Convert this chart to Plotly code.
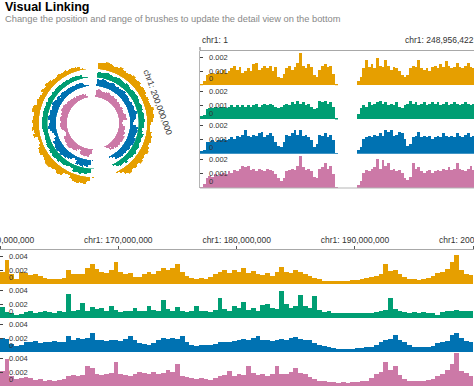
import plotly.graph_objects as go

# ---------------- data ----------------
CHR1_LEN = 248956422
OVERVIEW_BIN = 2_500_000          # whole-chromosome bins (overview + circular)
DETAIL_START = 160_000_000
DETAIL_END = 200_000_000
DETAIL_BIN = 400_000              # bins of the detail view
UNIT = 1e-4                       # values below are in units of 0.0001

colors = ["#E69F00", "#009E73", "#0072B2", "#CC79A7"]
N = None

orange_whole = [1, 3, 7, 8, 9, 8, 10, 9, 11, 9,
                10, 12, 14, 11, 13, 9, 10, 12, 10, 15,
                16, 11, 12, 14, 12, 14, 10, 13, 6, 5,
                8, 12, 14, 11, 13, 16, 23, 14, 12, 15,
                13, 7, 6, 11, 14, 15, 13, 14, 8, 1,
                N, N, N, N, N, N, N, 3, 6, 12,
                18, 13, 15, 12, 19, 14, 13, 18, 14, 11,
                13, 12, 10, 7, 6, 7, 12, 14, 13, 18,
                12, 11, 12, 10, 13, 14, 12, 15, 13, 17,
                14, 12, 13, 16, 13, 12, 14, 16, 13, 12]
green_whole = [2, 3, 7, 8, 8, 9, 8, 9, 9, 8,
               9, 10, 9, 10, 9, 10, 9, 10, 9, 10,
               11, 9, 10, 11, 10, 11, 10, 9, 8, 9,
               10, 11, 10, 12, 11, 13, 11, 12, 10, 11,
               9, 7, 8, 13, 12, 13, 11, 12, 9, 1,
               N, N, N, N, N, N, N, 4, 8, 10,
               9, 12, 10, 11, 12, 13, 11, 12, 10, 11,
               10, 12, 9, 8, 10, 11, 13, 11, 12, 10,
               11, 12, 10, 11, 12, 11, 12, 10, 11, 12,
               10, 11, 12, 11, 10, 11, 12, 11, 10, 11]
blue_whole = [2, 3, 9, 9, 10, 9, 10, 10, 11, 10,
              11, 12, 11, 13, 12, 14, 17, 13, 12, 14,
              13, 15, 16, 12, 14, 15, 13, 9, 6, 5,
              9, 14, 13, 15, 17, 14, 17, 13, 14, 12,
              10, 5, 7, 14, 13, 15, 12, 14, 10, 1,
              N, N, N, N, N, N, N, 3, 5, 11,
              12, 13, 12, 14, 13, 15, 13, 17, 16, 17,
              13, 14, 16, 15, 11, 6, 7, 12, 13, 16,
              12, 13, 12, 13, 11, 12, 13, 12, 15, 13,
              12, 13, 12, 15, 13, 12, 14, 15, 12, 13]
pink_whole = [1, 3, 7, 9, 8, 10, 9, 10, 11, 10,
              12, 11, 13, 12, 14, 16, 15, 16, 13, 14,
              12, 14, 13, 12, 14, 13, 12, 10, 7, 5,
              7, 12, 13, 14, 13, 16, 23, 15, 13, 14,
              12, 8, 7, 14, 15, 18, 14, 16, 10, 1,
              N, N, N, N, N, N, N, 2, 5, 11,
              13, 12, 14, 15, 21, 14, 20, 16, 18, 13,
              14, 12, 13, 11, 7, 6, 8, 18, 14, 15,
              12, 11, 12, 13, 11, 12, 13, 12, 14, 13,
              15, 13, 14, 18, 14, 13, 12, 14, 16, 13]

orange_detail = [18, 36, 15, 8, 17, 16, 13, 14, 12, 9,
                 7, 7, 8, 9, 21, 14, 15, 14, 24, 30,
                 22, 17, 16, 20, 32, 17, 14, 16, 11, 10,
                 15, 17, 14, 19, 23, 20, 24, 30, 17, 12,
                 9, 8, 9, 7, 10, 14, 18, 20, 16, 21,
                 18, 24, 16, 19, 14, 13, 16, 12, 18, 25,
                 17, 16, 20, 18, 15, 12, 9, 8, 5, 5,
                 4, 5, 4, 5, 6, 6, 7, 9, 11, 12,
                 14, 29, 19, 20, 15, 10, 8, 7, 6, 7,
                 9, 12, 16, 18, 22, 33, 43, 20, 15, 13]
green_detail = [16, 9, 8, 5, 6, 9, 10, 8, 9, 10,
                9, 8, 10, 9, 36, 10, 12, 22, 11, 16,
                13, 15, 10, 17, 12, 9, 10, 11, 15, 10,
                11, 17, 12, 11, 27, 13, 10, 16, 10, 9,
                11, 17, 10, 11, 9, 12, 29, 13, 11, 18,
                14, 23, 12, 14, 10, 19, 20, 14, 13, 39,
                20, 15, 18, 34, 17, 14, 32, 12, 9, 11,
                8, 7, 7, 8, 7, 8, 7, 8, 7, 9,
                10, 12, 29, 13, 10, 9, 8, 9, 8, 9,
                8, 7, 4, 9, 11, 10, 12, 10, 11, 10]
blue_detail = [20, 19, 12, 9, 11, 15, 14, 16, 13, 15,
               14, 16, 14, 15, 24, 18, 20, 19, 21, 28,
               18, 17, 16, 18, 17, 16, 19, 23, 17, 13,
               12, 11, 13, 18, 20, 19, 21, 19, 24, 14,
               10, 9, 11, 10, 10, 12, 14, 15, 14, 16,
               17, 19, 18, 20, 24, 18, 17, 16, 17, 19,
               18, 20, 22, 19, 18, 17, 13, 10, 9, 8,
               6, 5, 5, 5, 5, 6, 6, 7, 8, 11,
               15, 17, 19, 25, 18, 14, 10, 8, 7, 7,
               8, 9, 13, 15, 16, 25, 28, 20, 16, 15]
pink_detail = [22, 40, 14, 11, 12, 13, 12, 9, 10, 8,
               9, 8, 9, 10, 15, 16, 14, 16, 30, 26,
               18, 16, 17, 19, 35, 18, 16, 15, 17, 20,
               19, 18, 20, 18, 19, 24, 20, 32, 14, 13,
               12, 11, 12, 10, 9, 12, 15, 16, 22, 15,
               18, 16, 30, 19, 16, 17, 15, 18, 30, 17,
               18, 20, 26, 19, 17, 13, 11, 8, 7, 6,
               6, 5, 6, 5, 6, 6, 7, 8, 12, 18,
               20, 35, 24, 30, 16, 10, 8, 7, 7, 8,
               9, 11, 15, 17, 23, 32, 48, 22, 19, 14]

whole_tracks = [orange_whole, green_whole, blue_whole, pink_whole]
detail_tracks = [orange_detail, green_detail, blue_detail, pink_detail]

overview_ticks = [0, 0.001, 0.002]
detail_ticks = [0, 0.002, 0.004]
overview_max = 0.00243
circular_max = 0.0016
detail_max = 0.005

detail_tickvals = [160_000_000, 170_000_000, 180_000_000, 190_000_000, 200_000_000]
detail_ticktext = ["chr1: 160,000,000", "chr1: 170,000,000", "chr1: 180,000,000",
                   "chr1: 190,000,000", "chr1: 200,000,000"]

# ---------------- layout helpers ----------------
W, H = 474, 387
FONT = "Liberation Sans, Arial, sans-serif"


def px_x(x):
    return x / W


def px_y(y):
    return 1 - y / H


def scaled(vals):
    return [None if v is None else v * UNIT for v in vals]


fig = go.Figure()
layout = {}
annotations = []
shapes = []

# ---------------- overview (linear, whole chr1) ----------------
ov_edges = [51, 85.25, 119.5, 153.75, 188]
ov_left = 200
for k, vals in enumerate(whole_tracks):
    yname = "y" if k == 0 else f"y{k + 1}"
    ykey = "yaxis" if k == 0 else f"yaxis{k + 1}"
    xs = [(i + 0.5) * OVERVIEW_BIN for i in range(len(vals))]
    fig.add_trace(go.Bar(x=xs, y=scaled(vals), width=OVERVIEW_BIN,
                         marker=dict(color=colors[k], line=dict(width=0)),
                         xaxis="x", yaxis=yname, showlegend=False))
    layout[ykey] = dict(domain=[px_y(ov_edges[k + 1]), px_y(ov_edges[k])],
                        range=[0, overview_max], anchor="x", automargin=False,
                        tickvals=overview_ticks, ticks="inside", ticklen=3,
                        tickcolor="#444", showticklabels=False,
                        showgrid=False, zeroline=False,
                        showline=True, linecolor="#b5b5b5", linewidth=1)
    for t in overview_ticks:
        annotations.append(dict(
            x=px_x(ov_left + 7), xref="paper", y=t, yref=yname,
            text=("0" if t == 0 else f"{t:.3f}"), showarrow=False,
            xanchor="left", yanchor=("bottom" if t == 0 else "middle"),
            font=dict(size=7.5, color="#333", family=FONT)))

layout["xaxis"] = dict(domain=[px_x(ov_left), 1], range=[0, CHR1_LEN],
                       anchor="y", visible=False, showgrid=False, automargin=False)

# axis line / frame of overview
shapes.append(dict(type="line", xref="paper", yref="paper",
                   x0=px_x(ov_left), x1=1, y0=px_y(50.5), y1=px_y(50.5),
                   line=dict(color="#a8a8a8", width=1)))
shapes.append(dict(type="line", xref="paper", yref="paper",
                   x0=px_x(ov_left), x1=px_x(ov_left), y0=px_y(47), y1=px_y(50.5),
                   line=dict(color="#777", width=1)))
shapes.append(dict(type="line", xref="paper", yref="paper",
                   x0=px_x(ov_left), x1=1, y0=px_y(188), y1=px_y(188),
                   line=dict(color="#b5b5b5", width=1)))
annotations.append(dict(x=px_x(ov_left), y=px_y(40), xref="paper", yref="paper",
                        text="chr1: 1", showarrow=False, xanchor="left",
                        yanchor="middle", font=dict(size=8.5, color="#333", family=FONT)))
annotations.append(dict(x=px_x(476), y=px_y(40), xref="paper", yref="paper",
                        text="chr1: 248,956,422", showarrow=False, xanchor="right",
                        yanchor="middle", font=dict(size=8.5, color="#333", family=FONT)))

# ---------------- detail (linear, 160M-200M) ----------------
dt_edges = [250, 284, 318, 352, 386]
for k, vals in enumerate(detail_tracks):
    idx = k + 5
    yname = f"y{idx}"
    ykey = f"yaxis{idx}"
    xs = [DETAIL_START + (i + 0.5) * DETAIL_BIN for i in range(len(vals))]
    fig.add_trace(go.Bar(x=xs, y=scaled(vals), width=DETAIL_BIN,
                         marker=dict(color=colors[k], line=dict(width=0)),
                         xaxis="x2", yaxis=yname, showlegend=False))
    layout[ykey] = dict(domain=[px_y(dt_edges[k + 1]), px_y(dt_edges[k])],
                        range=[0, detail_max], anchor="x2", automargin=False,
                        tickvals=detail_ticks, ticks="inside", ticklen=3,
                        tickcolor="#444", showticklabels=False,
                        showgrid=False, zeroline=False, showline=False)
    for t in detail_ticks:
        annotations.append(dict(
            x=px_x(7), xref="paper", y=t, yref=yname,
            text=("0" if t == 0 else f"{t:.3f}"), showarrow=False,
            xanchor="left", yanchor=("bottom" if t == 0 else "middle"),
            font=dict(size=7.5, color="#333", family=FONT)))

layout["xaxis2"] = dict(domain=[0, 1], range=[DETAIL_START, DETAIL_START + (DETAIL_END - DETAIL_START) * W / 473.3],
                        anchor="y5", side="top", showline=True, linecolor="#a8a8a8",
                        linewidth=1, ticks="outside", ticklen=3, tickcolor="#555",
                        tickvals=detail_tickvals, ticktext=detail_ticktext,
                        ticklabeloverflow="allow", automargin=False,
                        tickfont=dict(size=8.5, color="#333", family=FONT),
                        showgrid=False, zeroline=False)

# ---------------- circular view ----------------
CX, CY = 93, 123
ARC_START, ARC_SPAN = 6.6, 346.8           # degrees, counter-clockwise from top
ring_radii = [(54, 62.5), (45.5, 54), (37, 45.5), (26, 34.5)]
for k, vals in enumerate(whole_tracks):
    pname = "polar" if k == 0 else f"polar{k + 1}"
    inner, outer = ring_radii[k]
    thetas = [ARC_START + (i + 0.5) * OVERVIEW_BIN / CHR1_LEN * ARC_SPAN
              for i in range(len(vals))]
    fig.add_trace(go.Barpolar(theta=thetas, r=scaled(vals),
                              width=OVERVIEW_BIN / CHR1_LEN * ARC_SPAN,
                              marker=dict(color=colors[k], line=dict(width=0)),
                              subplot=pname, showlegend=False))
    layout[pname] = dict(
        domain=dict(x=[px_x(CX - outer), px_x(CX + outer)],
                    y=[px_y(CY + outer), px_y(CY - outer)]),
        hole=inner / outer, bgcolor="rgba(0,0,0,0)",
        radialaxis=dict(range=[0, circular_max], visible=False),
        angularaxis=dict(rotation=90, direction="counterclockwise", visible=False),
        barmode="overlay", bargap=0)

annotations.append(dict(x=px_x(157.5), y=px_y(102.5), xref="paper", yref="paper",
                        text="chr1: 200,000,000", showarrow=False, textangle=70,
                        xanchor="center", yanchor="middle",
                        font=dict(size=8.5, color="#333", family=FONT)))

# ---------------- titles ----------------
annotations.append(dict(x=px_x(3), y=px_y(7), xref="paper", yref="paper",
                        text="<b>Visual Linking</b>", showarrow=False,
                        xanchor="left", yanchor="middle",
                        font=dict(size=12.5, color="#000", family=FONT)))
annotations.append(dict(x=px_x(3), y=px_y(18.5), xref="paper", yref="paper",
                        text="Change the position and range of brushes to update the detail view on the bottom",
                        showarrow=False, xanchor="left", yanchor="middle",
                        font=dict(size=9.3, color="#888", family=FONT)))

fig.update_layout(width=W, height=H, margin=dict(l=0, r=0, t=0, b=0, autoexpand=False),
                  paper_bgcolor="white", plot_bgcolor="rgba(0,0,0,0)",
                  bargap=0, barmode="overlay", showlegend=False,
                  annotations=annotations, shapes=shapes, **layout)

fig.write_html("out.html", config={"displayModeBar": False},
               post_script="document.body.style.margin='0';document.body.style.overflow='hidden';")
